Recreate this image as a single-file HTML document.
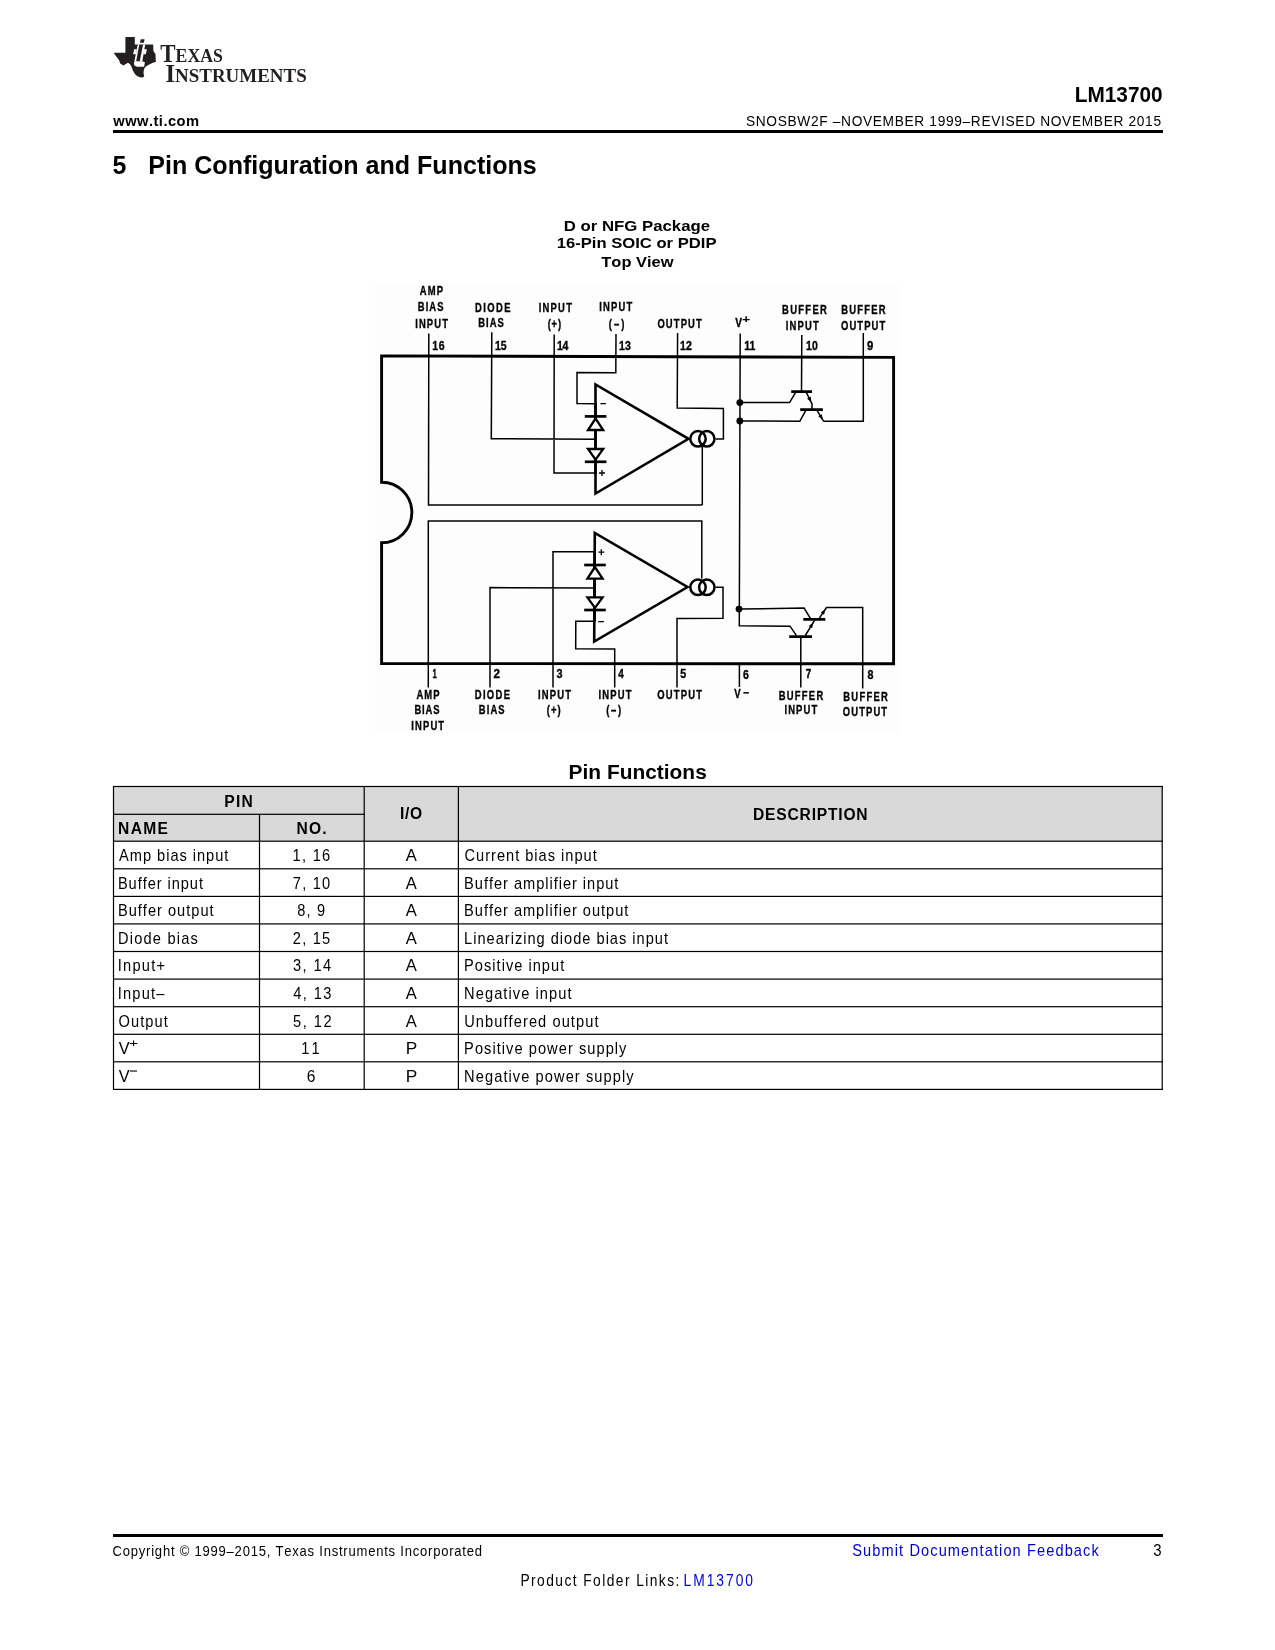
<!DOCTYPE html>
<html>
<head>
<meta charset="utf-8">
<style>
html,body{margin:0;padding:0;background:#fff;}
body{width:1275px;height:1650px;overflow:hidden;position:relative;}
svg{position:absolute;left:0;top:0;display:block;will-change:transform;}
text{font-family:"Liberation Sans",sans-serif;fill:#000;font-kerning:none;}
.b{font-weight:bold;}
.serif{font-family:"Liberation Serif",serif;}
.w{stroke:#000;fill:none;stroke-width:1.5;stroke-linecap:butt;stroke-linejoin:miter;}
.tk{stroke:#000;fill:none;stroke-width:2.9;stroke-linejoin:miter;}
.tk2{stroke:#000;fill:none;stroke-width:2.6;stroke-linejoin:miter;}
.bar{stroke:#000;fill:none;stroke-width:2.7;stroke-linecap:butt;}
.dio{stroke:#000;fill:#fff;stroke-width:2.3;stroke-linejoin:miter;}
.lb{stroke:#000;stroke-width:0.35;}
.sg{stroke:#000;fill:none;stroke-width:1.3;}
.cir{stroke:#000;fill:none;stroke-width:2.5;}
</style>
</head>
<body>
<svg width="1275" height="1650" viewBox="0 0 1275 1650">
<g id="logo">
<path fill="#231f20" d="M125.4,36.9 L134.8,36.9 L134.8,44.6 L153.2,44.6 L153.4,50.8 Q154.2,52.8 155.5,54.1 L155.8,62.1 Q152.5,62.8 150.4,64 Q147.5,65.2 145.6,66.8 Q143.9,68.5 143.8,70.6 L143.5,72.9 L144.2,76.2 Q143.2,77.4 141.9,77.4 Q140,77.3 138.6,76.7 Q136.5,75.8 135.3,74.4 Q133.8,72.6 132.9,70.6 L131.1,65.9 Q130.2,64.3 129.2,63.5 L127.8,62.8 L123.5,65.4 L120.2,63.5 L119.1,60.2 L114.1,53.6 L114.1,52.7 L125.4,52.7 Z"/>
<path fill="#fff" d="M137.7,44.5 L139.3,44.5 L136.1,61.5 L134.4,61.5 Z"/>
<path fill="#fff" d="M143.1,44.5 L145.2,44.5 L142.3,61.3 L139.8,61.3 Z"/>
<path fill="#fff" d="M134.2,49.2 L136.9,49.2 L135.8,54.2 L133.1,54.2 Z"/>
<path fill="#fff" d="M144.3,49.2 L146.9,49.2 L145.8,54.2 L143.2,54.2 Z"/>
<path fill="#fff" d="M134.4,61.2 L142.5,61.2 L144.9,62.3 L144.1,66.7 L137.2,66.7 Q134.2,66.4 134,63.8 Z"/>
<path fill="#231f20" d="M140.8,39.2 L144.6,39.2 L143.9,42.8 L139.9,42.8 Z"/>
</g>
<text x="160.3" y="61.5" font-size="25.6" textLength="62.5" lengthAdjust="spacingAndGlyphs" class="b serif" style="fill:#231f20">T<tspan font-size="19.8">EXAS</tspan></text>
<text x="165.5" y="81.5" font-size="25.6" textLength="141.2" lengthAdjust="spacingAndGlyphs" class="b serif" style="fill:#231f20">I<tspan font-size="19.8">NSTRUMENTS</tspan></text>
<text x="1074.71" y="102.10" font-size="21.6" textLength="87.95" lengthAdjust="spacingAndGlyphs" class="b">LM13700</text>
<text transform="scale(0.95,1)" x="119.20" y="125.70" font-size="15.5" textLength="90.39" lengthAdjust="spacing" class="b">www.ti.com</text>
<text transform="scale(0.93,1)" x="802.12" y="125.70" font-size="14.8" textLength="446.35" lengthAdjust="spacing">SNOSBW2F –NOVEMBER 1999–REVISED NOVEMBER 2015</text>
<rect x="113" y="130" width="1050" height="3" fill="#000"/>
<text x="112.43" y="173.80" font-size="25.4" textLength="13.86" lengthAdjust="spacingAndGlyphs" class="b">5</text>
<text x="148.32" y="173.80" font-size="25.4" textLength="388.51" lengthAdjust="spacingAndGlyphs" class="b">Pin Configuration and Functions</text>
<text x="563.68" y="230.50" font-size="14.6" textLength="146.40" lengthAdjust="spacingAndGlyphs" class="b">D or NFG Package</text>
<text x="556.75" y="248.40" font-size="14.6" textLength="159.71" lengthAdjust="spacingAndGlyphs" class="b">16-Pin SOIC or PDIP</text>
<text x="601.32" y="267.20" font-size="14.6" textLength="72.15" lengthAdjust="spacingAndGlyphs" class="b">Top View</text>
<g id="diagram"><rect x="375" y="285" width="524" height="449" fill="#fdfdfd"/>
<path class="tk" d="M381.6,355.9 L893.6,357.4 L893.6,663.8 L381.6,663.6 L381.6,542.8 A30.3,30.3 0 0 0 381.6,482.2 Z"/>
<path class="w" d="M428.8,333.5 L428.5,505 L702.2,505 M491.8,332.2 L491.3,438.8 L595.5,439.2 M554.2,334.4 L554,473 L595.5,473 M616,334 L615.8,372.8 L577,372.6 L577,403.6 L595.5,403.8 M677.6,333 L677.2,408 L723.4,408.5 L723.4,439 L715.8,439 M740.2,333.5 L739.3,625.7 L790,626.2 L796.3,635.4 M801.8,335 L801.5,391.6 M863.3,333 L863.3,421.3 L823.5,421.3 M739.8,402.6 L789.6,402.6 L795.6,392.3 M806.4,392.6 L812,404 L812,409.6 M739.8,421 L799.8,421.3 L805.8,410.3 M817,410.3 L823.7,421.3 M428.3,687.5 L428.3,521 L701.8,521 L701.8,578.6 M490,687.5 L490,587.6 L595.5,588 M553,687.5 L553,551.8 L595,551.8 M614.7,687.5 L614.7,648.9 L575.7,648.7 L575.8,621.3 L595,621.3 M677,687.5 L677,618.4 L723,618.3 L723,587.3 L715.8,587.3 M739.4,664 L739.4,687 M800.8,687.5 L800.8,636.6 M862.7,688.4 L862.7,607.4 L826.3,607.5 M739,609.1 L804.1,608 L810.4,618.4 M819.4,618.2 L826.5,607.5 M805.3,635.5 L814.4,620.6 M702.3,447 L702.3,505"/>
<path class="tk2" d="M595.5,384.5 L595.5,493.5 L688.5,438.8 Z"/>
<path class="tk2" d="M594.8,533 L594.2,641.5 L687.5,587 Z"/>
<path class="tk2" d="M595.5,403 L595.5,474 M594.6,551 L594.6,622"/>
<path class="bar" d="M584.8,416.4 L606.4,416.4"/><path class="dio" d="M595.6,418.5 L588.0,430.0 L603.2,430.0 Z"/>
<path class="bar" d="M584.8,461.8 L606.4,461.8"/><path class="dio" d="M595.6,459.6 L588.0,449.0 L603.2,449.0 Z"/>
<path class="bar" d="M584.2,565.0 L605.8,565.0"/><path class="dio" d="M595.0,567.0 L587.4,578.6 L602.6,578.6 Z"/>
<path class="bar" d="M584.2,610.0 L605.8,610.0"/><path class="dio" d="M595.0,607.8 L587.4,597.3 L602.6,597.3 Z"/>
<path class="sg" d="M600.4,403.6 L605.9,403.6 M599,473 L605,473 M602,470 L602,476 M598.3,552.2 L604.3,552.2 M601.3,549.2 L601.3,555.2 M598.2,621.6 L603.9,621.6"/>
<circle class="cir" cx="698" cy="438.8" r="7.7"/><circle class="cir" cx="706.8" cy="438.8" r="7.7"/>
<circle class="cir" cx="698" cy="587.3" r="7.7"/><circle class="cir" cx="706.8" cy="587.3" r="7.7"/>
<circle cx="739.8" cy="402.6" r="3.4" fill="#000"/>
<circle cx="739.8" cy="421.0" r="3.4" fill="#000"/>
<circle cx="739.0" cy="609.1" r="3.4" fill="#000"/>
<path class="bar" d="M791.2,391.6 L812,391.6 M800.2,409.6 L822.9,409.6 M803.3,619.3 L825.3,619.3 M789.2,636.7 L812,636.7"/>
<path d="M811.4,402.4 L807.1,398.4 L810.7,396.6 Z" fill="#000"/>
<path d="M822.9,420.0 L818.3,416.3 L821.8,414.3 Z" fill="#000"/>
<path d="M825.5,609.0 L824.1,614.7 L820.8,612.5 Z" fill="#000"/>
<path d="M813.3,622.5 L812.1,628.2 L808.7,626.1 Z" fill="#000"/>
<text transform="scale(0.76,1)" x="552.32" y="295.10" font-size="12.4" textLength="30.60" lengthAdjust="spacing" class="b lb">AMP</text>
<text transform="scale(0.76,1)" x="549.70" y="311.20" font-size="12.4" textLength="33.81" lengthAdjust="spacing" class="b lb">BIAS</text>
<text transform="scale(0.76,1)" x="546.28" y="327.60" font-size="12.4" textLength="43.07" lengthAdjust="spacing" class="b lb">INPUT</text>
<text transform="scale(0.76,1)" x="625.09" y="312.00" font-size="12.4" textLength="46.71" lengthAdjust="spacing" class="b lb">DIODE</text>
<text transform="scale(0.76,1)" x="629.17" y="327.00" font-size="12.4" textLength="33.81" lengthAdjust="spacing" class="b lb">BIAS</text>
<text transform="scale(0.76,1)" x="708.78" y="311.90" font-size="12.4" textLength="43.73" lengthAdjust="spacing" class="b lb">INPUT</text>
<text transform="scale(0.76,1)" x="720.57" y="327.80" font-size="12.4" textLength="17.68" lengthAdjust="spacing" class="b lb">(+)</text>
<text transform="scale(0.76,1)" x="788.51" y="311.50" font-size="12.4" textLength="43.46" lengthAdjust="spacing" class="b lb">INPUT</text>
<text transform="scale(0.76,1)" x="800.96" y="327.80" font-size="12.4" textLength="20.71" lengthAdjust="spacing" class="b lb">(–)</text>
<text transform="scale(0.76,1)" x="865.02" y="327.90" font-size="12.4" textLength="58.40" lengthAdjust="spacing" class="b lb">OUTPUT</text>
<text transform="scale(0.8146969477795486,1)" x="902.46" y="326.90" font-size="12.4" textLength="8.27" lengthAdjust="spacing" class="b lb">V</text>
<text x="741.91" y="322.60" font-size="10" textLength="8.27" lengthAdjust="spacingAndGlyphs" class="b">+</text>
<text transform="scale(0.76,1)" x="1029.04" y="313.60" font-size="12.4" textLength="58.85" lengthAdjust="spacing" class="b lb">BUFFER</text>
<text transform="scale(0.76,1)" x="1033.78" y="330.00" font-size="12.4" textLength="43.59" lengthAdjust="spacing" class="b lb">INPUT</text>
<text transform="scale(0.76,1)" x="1106.93" y="313.60" font-size="12.4" textLength="58.45" lengthAdjust="spacing" class="b lb">BUFFER</text>
<text transform="scale(0.76,1)" x="1106.60" y="330.50" font-size="12.4" textLength="58.27" lengthAdjust="spacing" class="b lb">OUTPUT</text>
<text transform="scale(0.85,1)" x="508.51" y="350.40" font-size="12.4" textLength="14.64" lengthAdjust="spacing" class="b lb">16</text>
<text transform="scale(0.85,1)" x="582.40" y="350.40" font-size="12.4" textLength="13.60" lengthAdjust="spacing" class="b lb">15</text>
<text transform="scale(0.85,1)" x="655.22" y="350.40" font-size="12.4" textLength="13.55" lengthAdjust="spacing" class="b lb">14</text>
<text transform="scale(0.85,1)" x="728.28" y="350.40" font-size="12.4" textLength="13.93" lengthAdjust="spacing" class="b lb">13</text>
<text transform="scale(0.85,1)" x="800.16" y="350.40" font-size="12.4" textLength="13.87" lengthAdjust="spacing" class="b lb">12</text>
<text transform="scale(0.85,1)" x="875.69" y="350.40" font-size="12.4" textLength="13.13" lengthAdjust="spacing" class="b lb">11</text>
<text transform="scale(0.85,1)" x="948.28" y="350.40" font-size="12.4" textLength="13.88" lengthAdjust="spacing" class="b lb">10</text>
<text transform="scale(0.9157127991675338,1)" x="946.70" y="350.40" font-size="12.4" textLength="6.90" lengthAdjust="spacing" class="b lb">9</text>
<text transform="scale(0.6239041397285253,1)" x="693.40" y="677.80" font-size="12.4" textLength="6.90" lengthAdjust="spacing" class="b lb">1</text>
<text transform="scale(0.9380357259700264,1)" x="525.99" y="677.80" font-size="12.4" textLength="6.90" lengthAdjust="spacing" class="b lb">2</text>
<text transform="scale(0.8761011470942355,1)" x="635.14" y="677.80" font-size="12.4" textLength="6.90" lengthAdjust="spacing" class="b lb">3</text>
<text transform="scale(0.797953362542999,1)" x="774.92" y="677.80" font-size="12.4" textLength="6.90" lengthAdjust="spacing" class="b lb">4</text>
<text transform="scale(0.8590332077621883,1)" x="791.90" y="677.80" font-size="12.4" textLength="6.90" lengthAdjust="spacing" class="b lb">5</text>
<text transform="scale(0.8508308895405707,1)" x="873.16" y="678.90" font-size="12.4" textLength="6.90" lengthAdjust="spacing" class="b lb">6</text>
<text transform="scale(0.7905743345305473,1)" x="1019.23" y="677.80" font-size="12.4" textLength="6.90" lengthAdjust="spacing" class="b lb">7</text>
<text transform="scale(0.865830700998703,1)" x="1002.00" y="678.60" font-size="12.4" textLength="6.90" lengthAdjust="spacing" class="b lb">8</text>
<text transform="scale(0.76,1)" x="548.11" y="698.70" font-size="12.4" textLength="30.21" lengthAdjust="spacing" class="b lb">AMP</text>
<text transform="scale(0.76,1)" x="545.35" y="714.00" font-size="12.4" textLength="33.02" lengthAdjust="spacing" class="b lb">BIAS</text>
<text transform="scale(0.76,1)" x="541.28" y="729.80" font-size="12.4" textLength="43.07" lengthAdjust="spacing" class="b lb">INPUT</text>
<text transform="scale(0.76,1)" x="624.70" y="699.20" font-size="12.4" textLength="46.31" lengthAdjust="spacing" class="b lb">DIODE</text>
<text transform="scale(0.76,1)" x="630.09" y="714.50" font-size="12.4" textLength="33.81" lengthAdjust="spacing" class="b lb">BIAS</text>
<text transform="scale(0.76,1)" x="707.99" y="698.70" font-size="12.4" textLength="43.46" lengthAdjust="spacing" class="b lb">INPUT</text>
<text transform="scale(0.76,1)" x="719.51" y="714.20" font-size="12.4" textLength="18.08" lengthAdjust="spacing" class="b lb">(+)</text>
<text transform="scale(0.76,1)" x="787.46" y="698.70" font-size="12.4" textLength="43.46" lengthAdjust="spacing" class="b lb">INPUT</text>
<text transform="scale(0.76,1)" x="797.67" y="714.20" font-size="12.4" textLength="19.66" lengthAdjust="spacing" class="b lb">(–)</text>
<text transform="scale(0.76,1)" x="864.75" y="699.20" font-size="12.4" textLength="58.80" lengthAdjust="spacing" class="b lb">OUTPUT</text>
<text transform="scale(0.7776652683350294,1)" x="944.28" y="698.50" font-size="12.4" textLength="8.27" lengthAdjust="spacing" class="b lb">V</text>
<rect x="743.3" y="692.1" width="5.6" height="1.5" fill="#000"/>
<text transform="scale(0.76,1)" x="1024.70" y="700.30" font-size="12.4" textLength="58.45" lengthAdjust="spacing" class="b lb">BUFFER</text>
<text transform="scale(0.76,1)" x="1032.20" y="714.50" font-size="12.4" textLength="43.07" lengthAdjust="spacing" class="b lb">INPUT</text>
<text transform="scale(0.76,1)" x="1109.57" y="700.80" font-size="12.4" textLength="58.72" lengthAdjust="spacing" class="b lb">BUFFER</text>
<text transform="scale(0.76,1)" x="1108.97" y="715.60" font-size="12.4" textLength="58.27" lengthAdjust="spacing" class="b lb">OUTPUT</text></g>
<text x="568.60" y="778.80" font-size="20.9" textLength="138.16" lengthAdjust="spacingAndGlyphs" class="b">Pin Functions</text>
<g id="table"><rect x="113.5" y="786.5" width="1049" height="55" fill="#d9d9d9"/>
<rect x="113" y="785.9" width="1050.0" height="1.2" fill="#000"/>
<rect x="113" y="813.7" width="251.8" height="1.2" fill="#000"/>
<rect x="113" y="840.6" width="1050.0" height="1.2" fill="#000"/>
<rect x="113" y="868.2" width="1050.0" height="1.2" fill="#000"/>
<rect x="113" y="895.8" width="1050.0" height="1.2" fill="#000"/>
<rect x="113" y="923.3" width="1050.0" height="1.2" fill="#000"/>
<rect x="113" y="950.9" width="1050.0" height="1.2" fill="#000"/>
<rect x="113" y="978.5" width="1050.0" height="1.2" fill="#000"/>
<rect x="113" y="1006.1" width="1050.0" height="1.2" fill="#000"/>
<rect x="113" y="1033.7" width="1050.0" height="1.2" fill="#000"/>
<rect x="113" y="1061.2" width="1050.0" height="1.2" fill="#000"/>
<rect x="113" y="1088.8" width="1050.0" height="1.2" fill="#000"/>
<rect x="112.9" y="786" width="1.2" height="304.0" fill="#000"/>
<rect x="1161.6" y="786" width="1.2" height="304.0" fill="#000"/>
<rect x="258.9" y="814" width="1.2" height="276.0" fill="#000"/>
<rect x="363.6" y="786" width="1.2" height="304.0" fill="#000"/>
<rect x="457.8" y="786" width="1.2" height="304.0" fill="#000"/>
<text transform="scale(0.93,1)" x="241.13" y="807.30" font-size="16.8" textLength="30.64" lengthAdjust="spacing" class="b">PIN</text>
<text transform="scale(0.93,1)" x="126.94" y="834.00" font-size="16.8" textLength="53.72" lengthAdjust="spacing" class="b">NAME</text>
<text transform="scale(0.93,1)" x="318.77" y="834.20" font-size="16.8" textLength="32.39" lengthAdjust="spacing" class="b">NO.</text>
<text transform="scale(0.93,1)" x="430.06" y="819.50" font-size="16.8" textLength="23.98" lengthAdjust="spacing" class="b">I/O</text>
<text transform="scale(0.93,1)" x="809.74" y="820.30" font-size="16.8" textLength="123.22" lengthAdjust="spacing" class="b">DESCRIPTION</text>
<text transform="scale(0.87,1)" x="136.86" y="861.10" font-size="16.8" textLength="125.67" lengthAdjust="spacing">Amp bias input</text>
<text transform="scale(0.87,1)" x="336.19" y="861.10" font-size="16.8" textLength="43.40" lengthAdjust="spacing">1, 16</text>
<text x="405.77" y="861.10" font-size="16.8" textLength="11.06" lengthAdjust="spacingAndGlyphs">A</text>
<text transform="scale(0.87,1)" x="533.97" y="861.10" font-size="16.8" textLength="151.90" lengthAdjust="spacing">Current bias input</text>
<text transform="scale(0.87,1)" x="135.52" y="888.70" font-size="16.8" textLength="97.82" lengthAdjust="spacing">Buffer input</text>
<text transform="scale(0.87,1)" x="336.61" y="888.70" font-size="16.8" textLength="42.90" lengthAdjust="spacing">7, 10</text>
<text x="405.77" y="888.70" font-size="16.8" textLength="11.06" lengthAdjust="spacingAndGlyphs">A</text>
<text transform="scale(0.87,1)" x="533.45" y="888.70" font-size="16.8" textLength="177.36" lengthAdjust="spacing">Buffer amplifier input</text>
<text transform="scale(0.87,1)" x="135.52" y="916.30" font-size="16.8" textLength="110.01" lengthAdjust="spacing">Buffer output</text>
<text transform="scale(0.87,1)" x="341.57" y="916.30" font-size="16.8" textLength="32.22" lengthAdjust="spacing">8, 9</text>
<text x="405.77" y="916.30" font-size="16.8" textLength="11.06" lengthAdjust="spacingAndGlyphs">A</text>
<text transform="scale(0.87,1)" x="533.45" y="916.30" font-size="16.8" textLength="188.74" lengthAdjust="spacing">Buffer amplifier output</text>
<text transform="scale(0.87,1)" x="135.52" y="943.80" font-size="16.8" textLength="91.99" lengthAdjust="spacing">Diode bias</text>
<text transform="scale(0.87,1)" x="336.63" y="943.80" font-size="16.8" textLength="42.93" lengthAdjust="spacing">2, 15</text>
<text x="405.77" y="943.80" font-size="16.8" textLength="11.06" lengthAdjust="spacingAndGlyphs">A</text>
<text transform="scale(0.87,1)" x="533.45" y="943.80" font-size="16.8" textLength="234.37" lengthAdjust="spacing">Linearizing diode bias input</text>
<text transform="scale(0.87,1)" x="135.35" y="971.40" font-size="16.8" textLength="54.45" lengthAdjust="spacing">Input+</text>
<text transform="scale(0.87,1)" x="336.83" y="971.40" font-size="16.8" textLength="43.89" lengthAdjust="spacing">3, 14</text>
<text x="405.77" y="971.40" font-size="16.8" textLength="11.06" lengthAdjust="spacingAndGlyphs">A</text>
<text transform="scale(0.87,1)" x="533.45" y="971.40" font-size="16.8" textLength="115.06" lengthAdjust="spacing">Positive input</text>
<text transform="scale(0.87,1)" x="135.35" y="999.00" font-size="16.8" textLength="53.63" lengthAdjust="spacing">Input–</text>
<text transform="scale(0.87,1)" x="337.09" y="999.00" font-size="16.8" textLength="43.88" lengthAdjust="spacing">4, 13</text>
<text x="405.77" y="999.00" font-size="16.8" textLength="11.06" lengthAdjust="spacingAndGlyphs">A</text>
<text transform="scale(0.87,1)" x="533.45" y="999.00" font-size="16.8" textLength="123.46" lengthAdjust="spacing">Negative input</text>
<text transform="scale(0.87,1)" x="136.10" y="1026.60" font-size="16.8" textLength="56.90" lengthAdjust="spacing">Output</text>
<text transform="scale(0.87,1)" x="336.80" y="1026.60" font-size="16.8" textLength="44.28" lengthAdjust="spacing">5, 12</text>
<text x="405.77" y="1026.60" font-size="16.8" textLength="11.06" lengthAdjust="spacingAndGlyphs">A</text>
<text transform="scale(0.87,1)" x="533.53" y="1026.60" font-size="16.8" textLength="154.41" lengthAdjust="spacing">Unbuffered output</text>
<text x="118.73" y="1054.20" font-size="16.8" textLength="10.84" lengthAdjust="spacingAndGlyphs">V</text>
<text x="128.94" y="1047.00" font-size="11.5" textLength="9.14" lengthAdjust="spacingAndGlyphs">+</text>
<text transform="scale(0.87,1)" x="346.42" y="1054.20" font-size="16.8" textLength="21.07" lengthAdjust="spacing">11</text>
<text x="405.78" y="1054.20" font-size="16.8" textLength="11.53" lengthAdjust="spacingAndGlyphs">P</text>
<text transform="scale(0.87,1)" x="533.45" y="1054.20" font-size="16.8" textLength="186.58" lengthAdjust="spacing">Positive power supply</text>
<text x="118.73" y="1081.70" font-size="16.8" textLength="10.84" lengthAdjust="spacingAndGlyphs">V</text>
<rect x="130" y="1070.5" width="7" height="1.1" fill="#000"/>
<text transform="scale(0.9287981859410416,1)" x="330.22" y="1081.70" font-size="16.8" textLength="9.34" lengthAdjust="spacing">6</text>
<text x="405.78" y="1081.70" font-size="16.8" textLength="11.53" lengthAdjust="spacingAndGlyphs">P</text>
<text transform="scale(0.87,1)" x="533.45" y="1081.70" font-size="16.8" textLength="194.86" lengthAdjust="spacing">Negative power supply</text></g>
<rect x="113" y="1534" width="1050" height="3" fill="#000"/>
<text transform="scale(0.88,1)" x="127.88" y="1555.60" font-size="14.8" textLength="419.89" lengthAdjust="spacing">Copyright © 1999–2015, Texas Instruments Incorporated</text>
<text transform="scale(0.93,1)" x="916.38" y="1555.70" font-size="15.7" textLength="265.10" lengthAdjust="spacing" style="fill:#0000d0">Submit Documentation Feedback</text>
<text x="1153.33" y="1555.70" font-size="15.7" textLength="8.33" lengthAdjust="spacingAndGlyphs">3</text>
<text transform="scale(0.88,1)" x="591.44" y="1586.40" font-size="15.7" textLength="180.56" lengthAdjust="spacing">Product Folder Links:</text>
<text transform="scale(0.88,1)" x="776.78" y="1586.40" font-size="15.7" textLength="78.95" lengthAdjust="spacing" style="fill:#0000d0">LM13700</text>
</svg>
</body>
</html>
